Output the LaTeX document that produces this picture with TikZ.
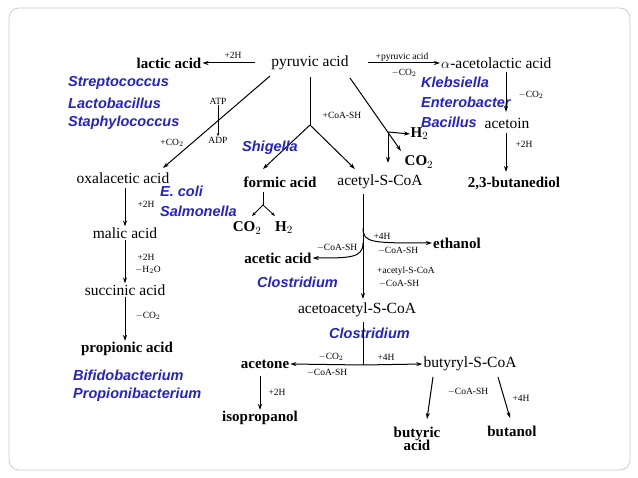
\documentclass[tikz,border=0pt]{standalone}
\usepackage{fontspec}
\setmainfont{Liberation Serif}
\newfontfamily\bugfont{Liberation Sans}
\usetikzlibrary{arrows.meta}
\definecolor{bugblue}{RGB}{35,35,200}
\begin{document}
\begin{tikzpicture}[x=1pt,y=-1pt,
  nreg/.style={font=\fontsize{15.5}{16}\selectfont,inner sep=1pt},
  nbold/.style={font=\fontsize{15}{16}\selectfont\bfseries,inner sep=1pt},
  sm/.style={font=\fontsize{9.5}{10}\selectfont,inner sep=0.5pt},
  smb/.style={font=\fontsize{15}{16}\selectfont\bfseries,inner sep=0.5pt},
  bug/.style={font=\bugfont\fontsize{14.5}{15}\selectfont\bfseries\itshape,text=bugblue,anchor=west,inner sep=0pt},
  ar/.style={-{Stealth[length=6pt,width=4pt]},line width=1pt},
  ln/.style={line width=1pt}]
\useasboundingbox (0,0) rectangle (638,478);
\draw[gray!40,line width=0.8pt,rounded corners=10pt] (9,8) rectangle (630,470);
% top row
\node[nbold] (lac) at (169,63) {lactic acid};
\node[nreg] (pyr) at (310,63) {pyruvic acid};
\node[nreg,anchor=west] (ala) at (440,63) {$\alpha$-acetolactic acid};
\coordinate (p1) at (255,63);
\draw[ar] (p1) -- (lac.east);
\node[sm] (h2a) at (233,55) {+2H};
\coordinate (p2) at (368,63);
\draw[ar] (p2) -- (ala.west);
\node[sm] (pa) at (402,57) {+pyruvic acid};
\node[sm] (co2a) at (404,73) {$-$CO$_2$};
\node[bug] (strep) at (68,83) {Streptococcus};
\node[bug] (lacto) at (68,103) {Lactobacillus};
\node[bug] (staph) at (68,123) {Staphylococcus};
\node[bug] (kleb) at (421,82) {Klebsiella};
\node[bug] (entero) at (421,102) {Enterobacter};
\node[bug] (bac) at (421,122) {Bacillus};
% ATP
\node[sm] (atp) at (218,101) {ATP};
\node[sm] (adp) at (218,140) {ADP};
\draw[-{Stealth[length=3pt,width=2.5pt]},line width=0.5pt] (atp.south) -- (adp.north);
\node[sm] (co2b) at (172,143) {+CO$_2$};
% to oxalacetic
\node[nreg] (oxa) at (123,178) {oxalacetic acid};
\coordinate (pa1) at (270,76);
\draw[ar] (pa1) -- (163,168);
% CoA-SH branch
\coordinate (pv) at (310,77);
\coordinate (pj) at (310,125);
\draw[ln] (pv) -- (pj);
\node[sm] (coash) at (342,115) {+CoA-SH};
\node[nbold] (form) at (280,182) {formic acid};
\node[nreg] (acet) at (380,182) {acetyl-S-CoA};
\draw[ar] (pj) -- (263,169);
\draw[ar] (pj) -- (355,169);
\node[bug] (shig) at (242,148) {Shigella};
% H2 CO2 from pyruvic
\coordinate (pc) at (350,78);
\coordinate (hj) at (388,132);
\node[smb,anchor=west] (h2b) at (410,134) {H$_2$};
\node[smb,anchor=west] (co2c) at (404,162) {CO$_2$};
\draw[ar] (pc) -- (401,151);
\draw[ar] (hj) -- (h2b.west);
\draw[ar] (hj) -- (388,163);
% acetoin
\node[nreg] (acetoin) at (507,123) {acetoin};
\node[nbold] (bdiol) at (514,183) {2,3-butanediol};
\draw[ar] (506,72) -- (506,112);
\node[sm] (co2d) at (531,95) {$-$CO$_2$};
\draw[ar] (506,133) -- (506,172);
\node[sm] (h2c) at (524,144) {+2H};
% formic split
\node[bug] (ecoli) at (160,191) {E. coli};
\node[bug] (salm) at (160,211) {Salmonella};
\coordinate (fj) at (263,205);
\draw[ln] (263,192) -- (fj);
\node[smb] (co2e) at (247,228) {CO$_2$};
\node[smb] (h2d) at (284,228) {H$_2$};
\draw[-{Stealth[length=4pt,width=3pt]},line width=0.8pt] (fj) -- (252,216);
\draw[-{Stealth[length=4pt,width=3pt]},line width=0.8pt] (fj) -- (275,216);
% left chain
\node[nreg] (mal) at (125,233) {malic acid};
\node[nreg] (succ) at (125,290) {succinic acid};
\node[nbold] (prop) at (127,349) {propionic acid};
\draw[ar] (125,188) -- (mal.north-|125,0);
\node[sm] at (146,204) {+2H};
\draw[ar] (mal.south-|125,0) -- (succ.north-|125,0);
\node[sm] at (146,257) {+2H};
\node[sm] at (148,270) {$-$H$_2$O};
\draw[ar] (succ.south-|125,0) -- (prop.north-|125,0);
\node[sm] at (148,316) {$-$CO$_2$};
\node[bug] (bifi) at (73,375) {Bifidobacterium};
\node[bug] (propb) at (73,395) {Propionibacterium};
% acetyl chain
\node[nbold,anchor=west] (eth) at (432,243) {ethanol};
\node[nbold] (acac) at (278,258) {acetic acid};
\node[nreg] (aaco) at (357,310) {acetoacetyl-S-CoA};
\draw[ar] (363,194) -- (363,299);
\draw[ar] (363,228) .. controls (363,243) and (372,243) .. (eth.west);
\draw[ar] (363,243) .. controls (363,258) and (350,258) .. (acac.east);
\node[sm] at (382,236) {+4H};
\node[sm] at (398,251) {$-$CoA-SH};
\node[sm] at (337,248) {$-$CoA-SH};
\node[sm] at (406,271) {+acetyl-S-CoA};
\node[sm] at (399,284) {$-$CoA-SH};
\node[bug] (clos1) at (257,282) {Clostridium};
\node[bug] (clos2) at (329,333) {Clostridium};
% acetoacetyl split
\coordinate (aj) at (363,365);
\node[nbold] (acetone) at (265,364) {acetone};
\node[nreg] (buty) at (470,364) {butyryl-S-CoA};
\draw[ln] (363,322) -- (aj);
\draw[ar] (aj) -- (acetone.east);
\draw[ar] (aj) -- (buty.west);
\node[sm] at (331,357) {$-$CO$_2$};
\node[sm] at (327,373) {$-$CoA-SH};
\node[sm] at (386,357) {+4H};
\node[nbold] (iso) at (260,418) {isopropanol};
\draw[ar] (260,376) -- (iso.north-|260,0);
\node[sm] at (277,392) {+2H};
\node[nbold,align=center] (butac) at (417,439) {butyric\\[-3pt]acid};
\node[nbold] (butol) at (512,431) {butanol};
\draw[ar] (433,377) -- (427,419);
\draw[ar] (498,377) -- (510,418);
\node[sm] at (468,392) {$-$CoA-SH};
\node[sm] at (521,398) {+4H};
\end{tikzpicture}
\end{document}
